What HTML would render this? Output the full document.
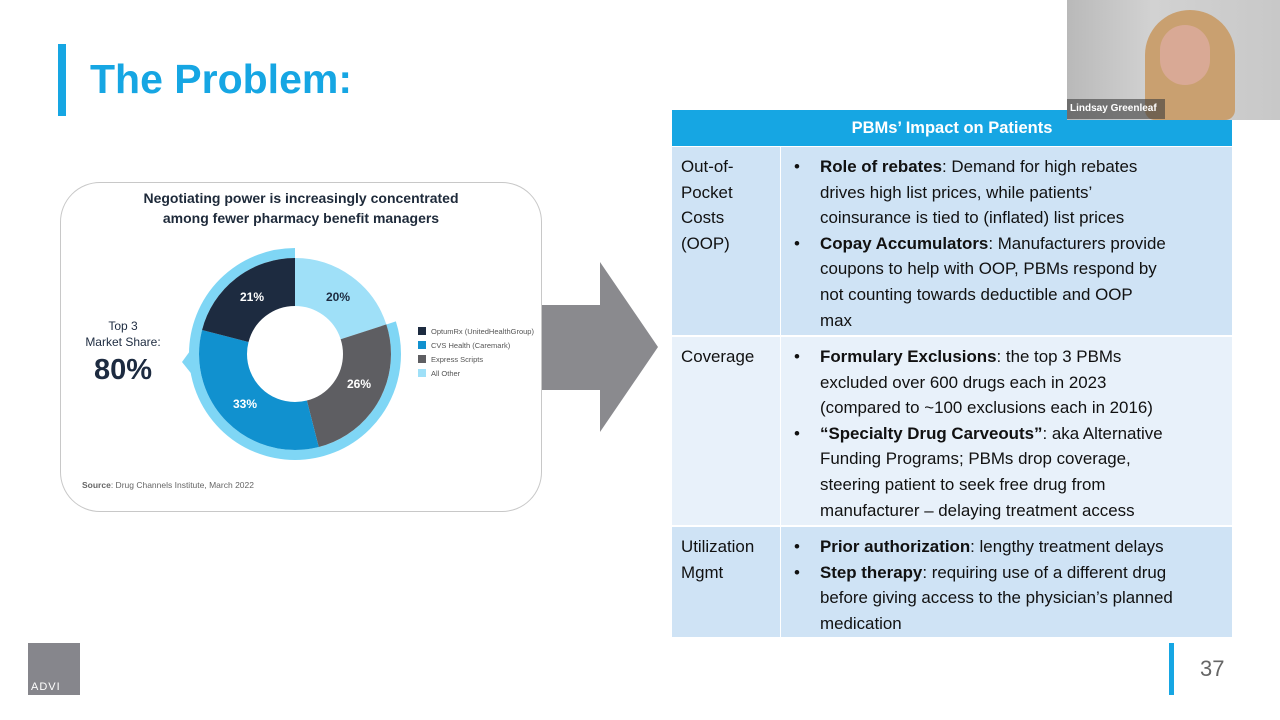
<!DOCTYPE html>
<html><head><meta charset="utf-8"><style>
body{margin:0;width:1280px;height:720px;background:#fff;position:relative;overflow:hidden;font-family:"Liberation Sans",sans-serif}
.abs{position:absolute}
.tbl{position:absolute;left:672px;top:110px;width:560px;font-size:16.9px;color:#111;line-height:25.6px}
.hdr{height:36px;background:#16a6e3;color:#fff;font-weight:bold;text-align:center;line-height:36px;font-size:16.5px}
.row{position:absolute;left:0;width:560px}
.c1{position:absolute;left:9px;top:7px}
.c2{position:absolute;left:148px;top:7px;width:410px;white-space:nowrap}
.div{position:absolute;left:108px;top:0;bottom:0;width:1px;background:#fff}
.b{position:absolute;left:-26px}
</style></head><body>
<div class="abs" style="left:58px;top:44px;width:8px;height:72px;background:#16a6e3"></div>
<div class="abs" style="left:90px;top:56px;font-size:41px;font-weight:bold;color:#16a6e3">The Problem:</div>

<div class="abs" style="left:60px;top:182px;width:480px;height:328px;border:1.5px solid #c8c8c8;border-radius:40px;background:#fff"></div>
<div class="abs" style="left:60px;top:188px;width:482px;text-align:center;font-weight:bold;font-size:14px;line-height:20px;color:#1e2a3a">Negotiating power is increasingly concentrated<br>among fewer pharmacy benefit managers</div>
<svg class="abs" style="left:0;top:0" width="700" height="720">
<polygon points="542,305 600,305 600,262 658,347 600,432 600,390 542,390" fill="#8a8a8e"/>
<circle cx="295" cy="354" r="101" fill="none" stroke="#7fd6f5" stroke-width="10" stroke-dasharray="507.6 634.6" stroke-dashoffset="-127" transform="rotate(-90 295 354)"/>
<polygon points="198,340 182,362 198,382" fill="#7fd6f5"/>
<g transform="rotate(-90 295 354)" fill="none" stroke-width="48">
<circle cx="295" cy="354" r="72" stroke="#9fe0f8" stroke-dasharray="90.5 452.4"/>
<circle cx="295" cy="354" r="72" stroke="#5e5e62" stroke-dasharray="117.6 452.4" stroke-dashoffset="-90.5"/>
<circle cx="295" cy="354" r="72" stroke="#1191cf" stroke-dasharray="149.3 452.4" stroke-dashoffset="-208.1"/>
<circle cx="295" cy="354" r="72" stroke="#1d2b40" stroke-dasharray="95 452.4" stroke-dashoffset="-357.4"/>
</g>
<g font-weight="bold" font-size="12" text-anchor="middle">
<text x="252" y="301" fill="#fff">21%</text>
<text x="338" y="301" fill="#1d2b40">20%</text>
<text x="359" y="388" fill="#fff">26%</text>
<text x="245" y="408" fill="#fff">33%</text>
</g>
<text x="123" y="330" font-size="12" text-anchor="middle" fill="#1d2b40">Top 3</text>
<text x="123" y="346" font-size="12" text-anchor="middle" fill="#1d2b40">Market Share:</text>
<text x="123" y="379" font-size="29" font-weight="bold" text-anchor="middle" fill="#1d2b40">80%</text>
<g font-size="7.5" fill="#555">
<rect x="418" y="327" width="8" height="8" fill="#1d2b40"/><text x="431" y="334">OptumRx (UnitedHealthGroup)</text>
<rect x="418" y="341" width="8" height="8" fill="#1191cf"/><text x="431" y="348">CVS Health (Caremark)</text>
<rect x="418" y="355" width="8" height="8" fill="#5e5e62"/><text x="431" y="362">Express Scripts</text>
<rect x="418" y="369" width="8" height="8" fill="#9fe0f8"/><text x="431" y="376">All Other</text>
</g>
<text x="82" y="488" font-size="8.5" fill="#666"><tspan font-weight="bold">Source</tspan>: Drug Channels Institute, March 2022</text>
</svg>

<div class="tbl">
<div class="hdr">PBMs’ Impact on Patients</div>
<div class="row" style="top:37px;height:188px;background:#cfe3f5"><div class="div"></div>
<div class="c1">Out-of-<br>Pocket<br>Costs<br>(OOP)</div>
<div class="c2"><div style="position:relative"><span class="b">•</span><b>Role of rebates</b>: Demand for high rebates<br>drives high list prices, while patients’<br>coinsurance is tied to (inflated) list prices</div>
<div style="position:relative"><span class="b">•</span><b>Copay Accumulators</b>: Manufacturers provide<br>coupons to help with OOP, PBMs respond by<br>not counting towards deductible and OOP<br>max</div></div></div>
<div class="row" style="top:227px;height:188px;background:#e8f1fa"><div class="div"></div>
<div class="c1">Coverage</div>
<div class="c2"><div style="position:relative"><span class="b">•</span><b>Formulary Exclusions</b>: the top 3 PBMs<br>excluded over 600 drugs each in 2023<br>(compared to ~100 exclusions each in 2016)</div>
<div style="position:relative"><span class="b">•</span><b>“Specialty Drug Carveouts”</b>: aka Alternative<br>Funding Programs; PBMs drop coverage,<br>steering patient to seek free drug from<br>manufacturer – delaying treatment access</div></div></div>
<div class="row" style="top:417px;height:110px;background:#cfe3f5"><div class="div"></div>
<div class="c1">Utilization<br>Mgmt</div>
<div class="c2"><div style="position:relative"><span class="b">•</span><b>Prior authorization</b>: lengthy treatment delays</div>
<div style="position:relative"><span class="b">•</span><b>Step therapy</b>: requiring use of a different drug<br>before giving access to the physician’s planned<br>medication</div></div></div>
</div>

<div class="abs" style="left:1067px;top:0;width:213px;height:120px;background:linear-gradient(90deg,#b9b9b9,#d2d2d2 40%,#c8c8c8)"></div>
<div class="abs" style="left:1145px;top:10px;width:90px;height:110px;border-radius:45px 45px 10px 10px;background:#c9a070"></div>
<div class="abs" style="left:1160px;top:25px;width:50px;height:60px;border-radius:25px;background:#d9a995"></div>
<div class="abs" style="left:1067px;top:99px;width:95px;height:20px;background:rgba(60,60,60,.6);color:#fff;font-size:10px;font-weight:bold;line-height:20px;padding-left:3px">Lindsay Greenleaf</div>

<div class="abs" style="left:28px;top:643px;width:52px;height:52px;background:#86868c"><span style="position:absolute;left:3px;bottom:2px;color:#fff;font-size:11px;letter-spacing:1px">ADVI</span></div>
<div class="abs" style="left:1169px;top:643px;width:5px;height:52px;background:#16a6e3"></div>
<div class="abs" style="left:1200px;top:656px;font-size:22px;color:#666">37</div>
</body></html>
